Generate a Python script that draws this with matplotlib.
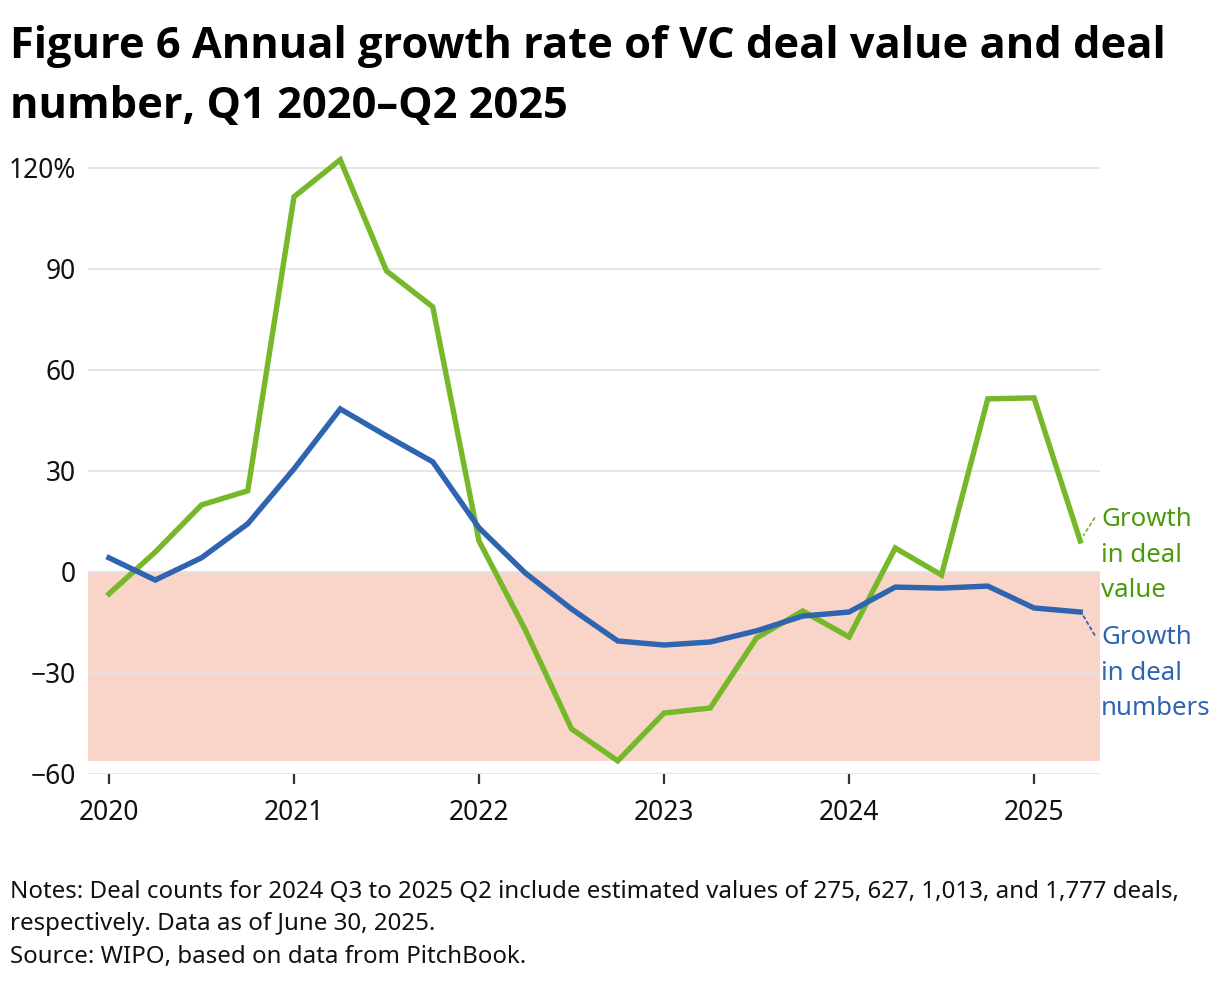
import matplotlib
matplotlib.use("Agg")
import matplotlib.pyplot as plt
import numpy as np

plt.rcParams['font.family'] = ['Noto Sans', 'DejaVu Sans']

quarters = [2020 + i * 0.25 for i in range(22)]
deal_value = [-6.5, 5.9, 19.9, 24.1, 111.4, 122.4, 89.4, 78.7, 9.2, -17.2, -46.6, -56.1,
              -41.9, -40.4, -19.6, -11.6, -19.3, 7.1, -0.9, 51.4, 51.7, 9.2]
deal_number = [4.2, -2.4, 4.2, 14.3, 30.6, 48.4, 40.4, 32.7, 13.1, -0.3, -11.0, -20.5,
               -21.7, -20.8, -17.5, -13.1, -11.9, -4.5, -4.8, -4.2, -10.7, -11.9]
yticks = [-60, -30, 0, 30, 60, 90, 120]
ytick_labels = ['\u221260', '\u221230', '0', '30', '60', '90', '120%']
xticks = [2020, 2021, 2022, 2023, 2024, 2025]
xtick_labels = ['2020', '2021', '2022', '2023', '2024', '2025']
shade_low = -56.1

green = '#76b82a'
green_txt = '#4a9a0e'
blue = '#2e64b0'

W, H = 1220, 986
fig = plt.figure(figsize=(W/100, H/100), dpi=100)
ax = fig.add_axes([88/W, 1-774/H, (1100-88)/W, (774-151)/H])
ax.set_xlim(2020 - 21/185, 2020 + 991/185)
ax.set_ylim(-60, 125)

ax.axhspan(shade_low, 0, color='#f9d5c9', zorder=0, lw=0)
for t in yticks:
    ax.axhline(t, color='#e3e3e3', lw=1.3, zorder=1)

ax.plot(quarters, deal_value, color=green, lw=3.9, zorder=3, clip_on=False, solid_joinstyle='miter')
ax.plot(quarters, deal_number, color=blue, lw=3.9, zorder=4, clip_on=False, solid_joinstyle='miter')

for s in ax.spines.values():
    s.set_visible(False)
ax.set_yticks(yticks)
ax.set_yticklabels(ytick_labels)
ax.set_xticks(xticks)
ax.set_xticklabels(xtick_labels)
ax.tick_params(axis='y', length=0, labelsize=19, pad=8.5, labelcolor='#111111')
ax.tick_params(axis='x', length=7, width=1.6, color='#333333', labelsize=19, pad=11, labelcolor='#111111')

# end labels with dotted connectors
x_end = quarters[-1]
ax.annotate('', xy=(x_end + 0.01, deal_value[-1] + 1), xytext=(x_end + 0.085, deal_value[-1] + 7.5),
            arrowprops=dict(arrowstyle='-', color=green, lw=1.3, ls=(0, (1.5, 2))), annotation_clip=False)
ax.annotate('', xy=(x_end + 0.01, deal_number[-1] - 0.5), xytext=(x_end + 0.085, deal_number[-1] - 7.5),
            arrowprops=dict(arrowstyle='-', color=blue, lw=1.3, ls=(0, (1.5, 2))), annotation_clip=False)

fig.text(1101/W, 1-555/H, 'Growth\nin deal\nvalue', color=green_txt, fontsize=18.6,
         va='center', ha='left', linespacing=1.57)
fig.text(1101/W, 1-673/H, 'Growth\nin deal\nnumbers', color=blue, fontsize=18.6,
         va='center', ha='left', linespacing=1.57)

title_font = dict(family=['Open Sans', 'Noto Sans', 'DejaVu Sans'], fontweight='bold', fontsize=31.2,
                  va='baseline', ha='left', color='#000000')
fig.text(10/W, 1-58/H, 'Figure 6 Annual growth rate of VC deal value and deal', **title_font)
fig.text(10/W, 1-118/H, 'number, Q1 2020\u2013Q2 2025', **title_font)

note_font = dict(fontsize=17.3, va='center', ha='left', color='#111111')
fig.text(10/W, 1-892/H, 'Notes: Deal counts for 2024 Q3 to 2025 Q2 include estimated values of 275, 627, 1,013, and 1,777 deals,', **note_font)
fig.text(10/W, 1-924/H, 'respectively. Data as of June 30, 2025.', **note_font)
fig.text(10/W, 1-957/H, 'Source: WIPO, based on data from PitchBook.', **note_font)

fig.savefig('out.png', dpi=100)
